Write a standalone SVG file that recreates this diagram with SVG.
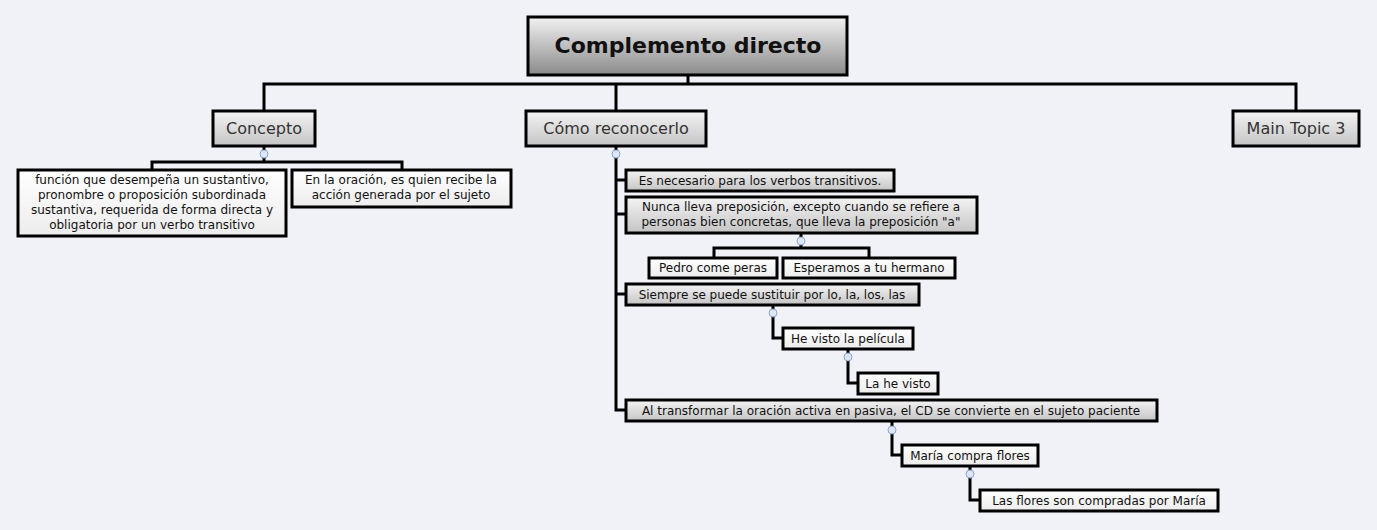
<svg xmlns="http://www.w3.org/2000/svg" width="1377" height="530" viewBox="0 0 1377 530">
<defs>
<linearGradient id="g1" x1="0" y1="0" x2="0" y2="1"><stop offset="0" stop-color="#f2f2f2"/><stop offset="1" stop-color="#8a8a8a"/></linearGradient>
<linearGradient id="g2" x1="0" y1="0" x2="0" y2="1"><stop offset="0" stop-color="#f4f4f4"/><stop offset="1" stop-color="#c4c4c4"/></linearGradient>
<linearGradient id="g3" x1="0" y1="0" x2="0" y2="1"><stop offset="0" stop-color="#ffffff"/><stop offset="1" stop-color="#ececec"/></linearGradient>
</defs>
<style>
.b{stroke:#000;stroke-width:3}
.gr{fill:url(#g2)}
.wh{fill:url(#g3)}
text{font-family:"DejaVu Sans",sans-serif;fill:#111;text-anchor:middle}
.t{font-size:16px;fill:#333}
.s{font-size:12px}
.c path,.c polyline{fill:none;stroke:#000;stroke-width:3}
.k{fill:#dde6f5;stroke:#8ea7d0;stroke-width:1}
</style>
<rect width="1377" height="530" fill="#f0f2f7"/>
<g class="c">
<path d="M688 75V84M264 111V84H1296V111M616 84V111"/>
<path d="M264 146V162M152 170V162H402V170"/>
<path d="M616 146V410H626M616 180H626M616 214H626M616 294H626"/>
<path d="M801 233V248M714 258V248H869V258"/>
<path d="M773 305V338H783M848 349V383H858M892 421V455H902M970 466V500H980"/>
<circle class="k" cx="264" cy="154" r="4"/><circle class="k" cx="616" cy="154" r="4"/>
<circle class="k" cx="801" cy="241" r="4"/><circle class="k" cx="773" cy="313" r="4"/>
<circle class="k" cx="848" cy="357" r="4"/><circle class="k" cx="892" cy="430" r="4"/>
<circle class="k" cx="970" cy="474" r="4"/>
</g>
<g id="root"><rect class="b" x="528" y="17" width="319" height="58" fill="url(#g1)"/><text x="688" y="53" font-size="22" font-weight="bold">Complemento directo</text></g>
<g id="concepto"><rect class="b gr" x="213" y="111" width="102" height="35"/><text class="t" x="264" y="134">Concepto</text></g>
<g id="como"><rect class="b gr" x="526" y="111" width="180" height="35"/><text class="t" x="616" y="134">Cómo reconocerlo</text></g>
<g id="main3"><rect class="b gr" x="1233" y="111" width="126" height="35"/><text class="t" x="1296" y="134">Main Topic 3</text></g>
<g id="def"><rect class="b wh" x="18" y="170" width="268" height="66"/><text class="s" x="152" y="184">función que desempeña un sustantivo,</text><text class="s" x="152" y="199">pronombre o proposición subordinada</text><text class="s" x="152" y="214">sustantiva, requerida de forma directa y</text><text class="s" x="152" y="229">obligatoria por un verbo transitivo</text></g>
<g id="oracion"><rect class="b wh" x="292" y="170" width="219" height="37"/><text class="s" x="401" y="184">En la oración, es quien recibe la</text><text class="s" x="401" y="199">acción generada por el sujeto</text></g>
<g id="necesario"><rect class="b gr" x="626" y="170" width="268" height="21"/><text class="s" x="760" y="185">Es necesario para los verbos transitivos.</text></g>
<g id="nunca"><rect class="b gr" x="626" y="197" width="351" height="36"/><text class="s" x="801" y="211">Nunca lleva preposición, excepto cuando se refiere a</text><text class="s" x="801" y="226">personas bien concretas, que lleva la preposición "a"</text></g>
<g id="pedro"><rect class="b wh" x="649" y="258" width="128" height="20"/><text class="s" x="713" y="272">Pedro come peras</text></g>
<g id="esperamos"><rect class="b wh" x="783" y="258" width="172" height="20"/><text class="s" x="869" y="272">Esperamos a tu hermano</text></g>
<g id="siempre"><rect class="b gr" x="626" y="284" width="293" height="21"/><text class="s" x="772" y="299">Siempre se puede sustituir por lo, la, los, las</text></g>
<g id="hevisto"><rect class="b wh" x="783" y="328" width="130" height="21"/><text class="s" x="848" y="343">He visto la película</text></g>
<g id="lahevisto"><rect class="b wh" x="858" y="373" width="80" height="21"/><text class="s" x="898" y="388">La he visto</text></g>
<g id="transformar"><rect class="b gr" x="626" y="400" width="531" height="21"/><text class="s" x="891" y="415">Al transformar la oración activa en pasiva, el CD se convierte en el sujeto paciente</text></g>
<g id="maria"><rect class="b wh" x="902" y="445" width="136" height="21"/><text class="s" x="970" y="460">María compra flores</text></g>
<g id="flores"><rect class="b wh" x="980" y="490" width="238" height="21"/><text class="s" x="1099" y="505">Las flores son compradas por María</text></g>
</svg>
